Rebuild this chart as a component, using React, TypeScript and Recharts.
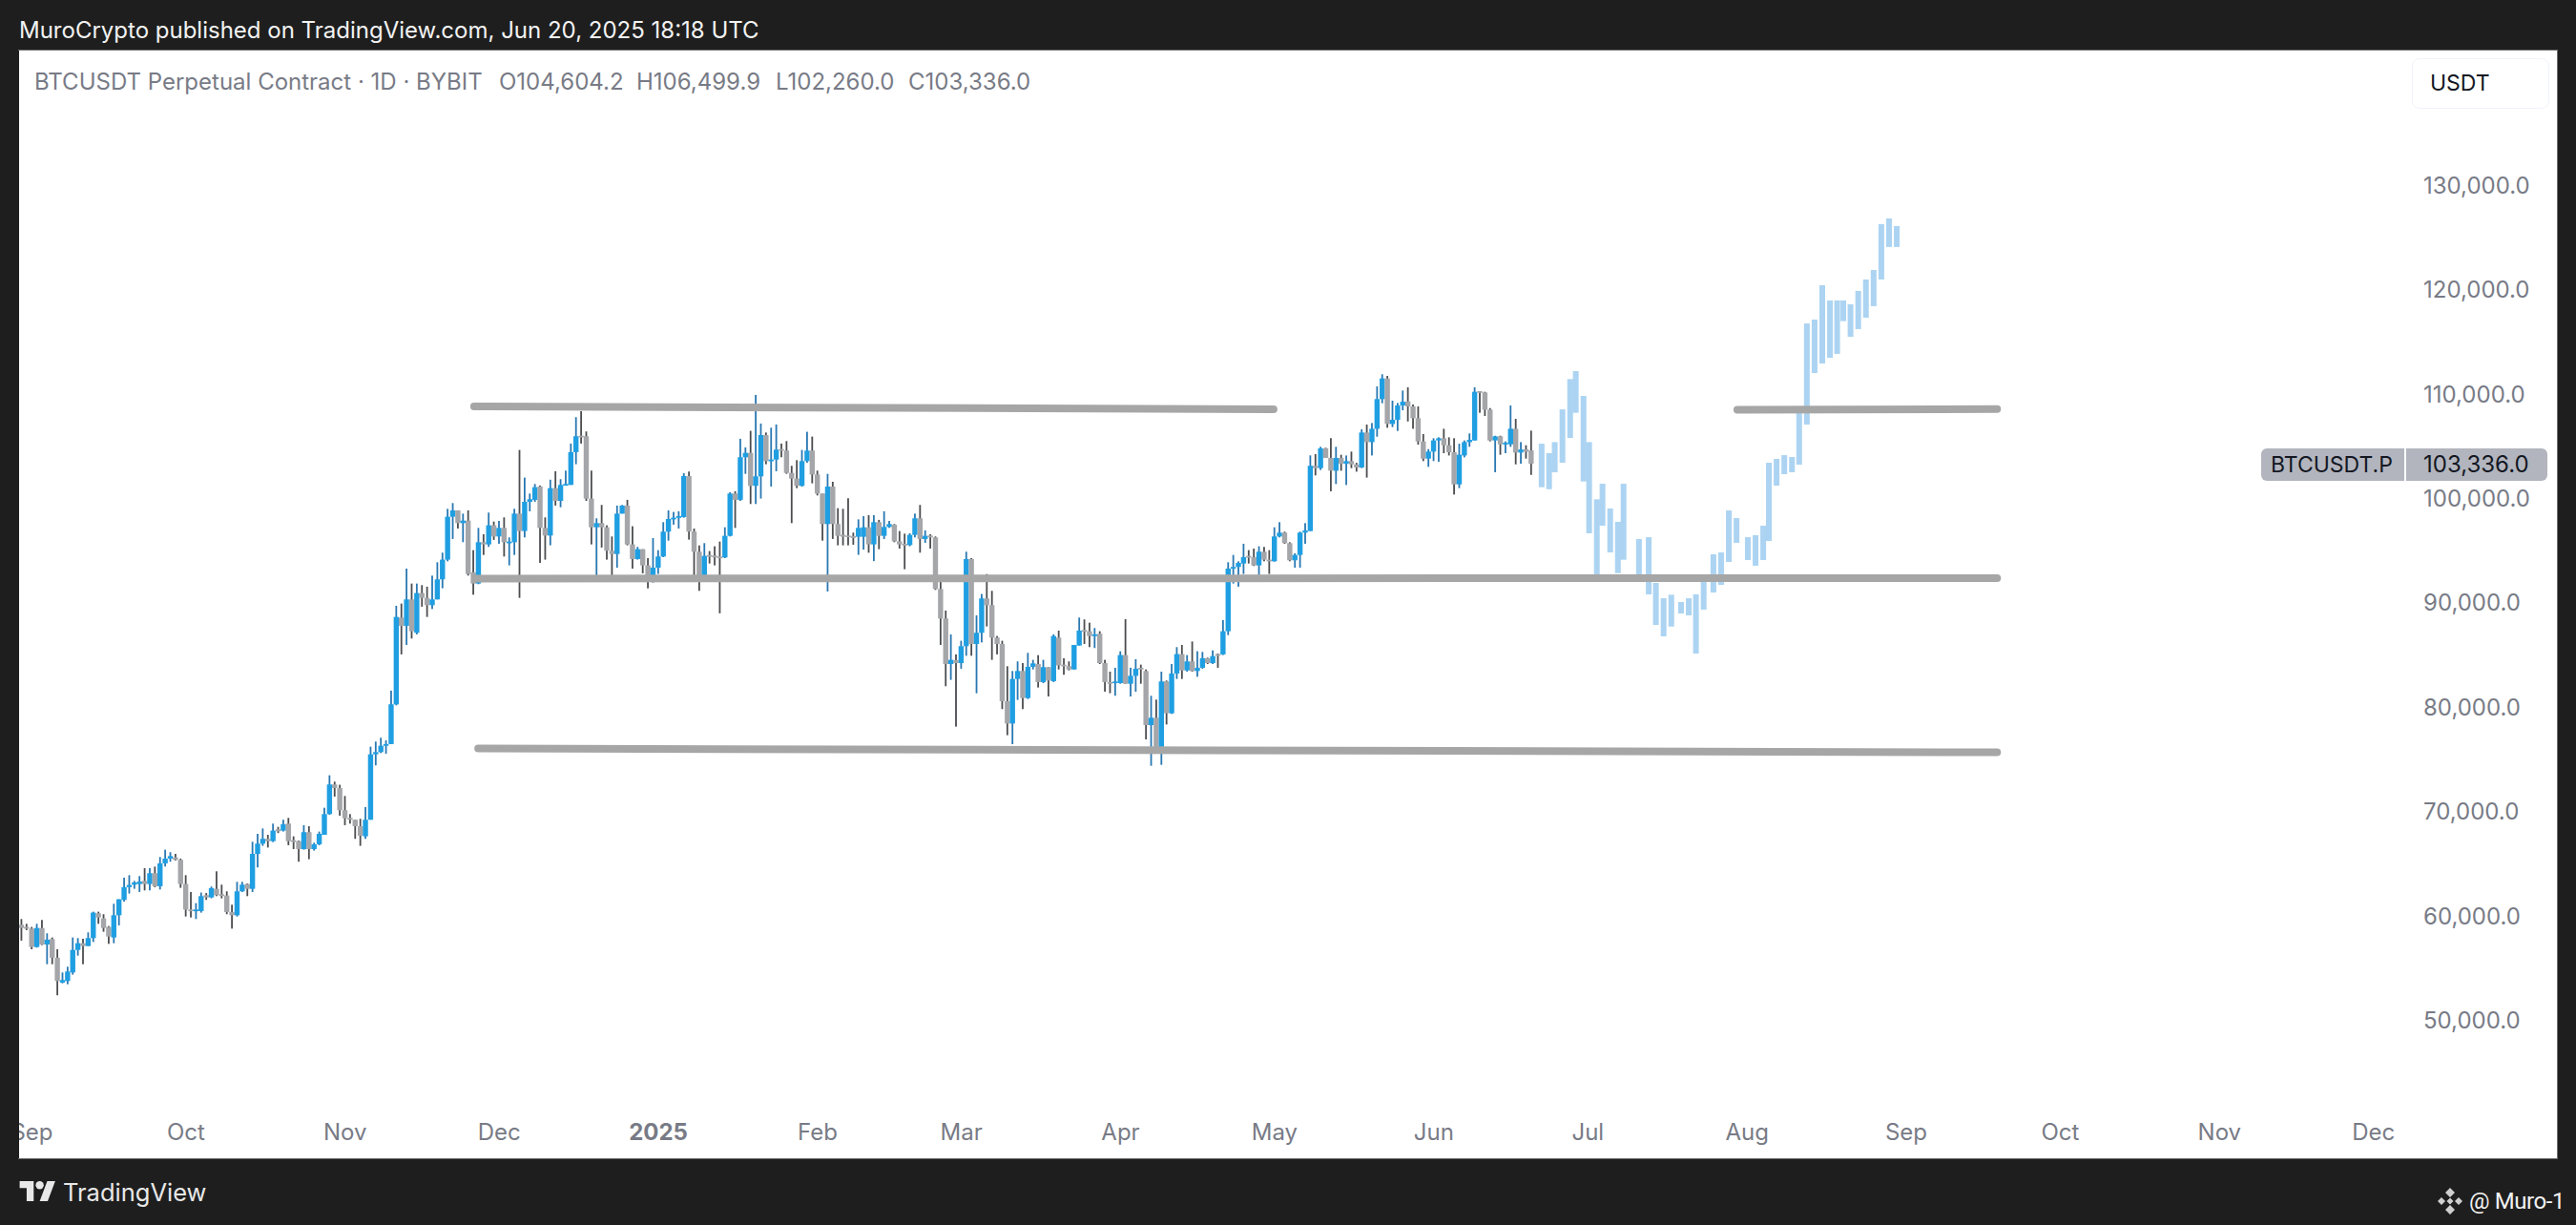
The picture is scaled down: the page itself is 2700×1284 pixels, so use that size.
import React from 'react';
import { Bar, ComposedChart, ReferenceLine, XAxis, YAxis } from 'recharts';

// OHLC, one per daily session (session 0 = 30 Aug 2024)
const opens = [
  59160, 58950, 58790, 57030, 58850, 57270, 57790, 56000, 53620, 53770,
  54590, 56750, 57390, 57120, 57880, 60260, 59770, 58950, 57940, 60070,
  61540, 62760, 63000, 63060, 63360, 63060, 64100, 62850, 65040, 65500,
  65620, 65380, 63060, 60620, 60470, 60470, 62000, 61780, 62600, 62080,
  61960, 60380, 60070, 62360, 63060, 62600, 65950, 66930, 67390, 67170,
  68300, 68180, 68850, 67260, 67170, 66410, 68030, 66410, 66870, 67780,
  69760, 72600, 72260, 70130, 69400, 69220, 68600, 67630, 69220, 75490,
  75700, 76310, 76470, 80270, 88590, 87800, 90330, 87130, 90940, 90480,
  89780, 90330, 92250, 94140, 98250, 98860, 97640, 97880, 92920, 91850,
  95810, 95600, 97430, 96360, 97180, 95800, 95810, 98550, 96880, 99680,
  99870, 101140, 97180, 96450, 100990, 99770, 101300, 101300, 104440, 106020,
  105960, 99990, 97240, 97640, 97240, 94990, 94680, 98550, 99320, 95600,
  94200, 95140, 93590, 92610, 93370, 94440, 96820, 98040, 98160, 98220,
  102150, 96820, 94900, 92370, 94590, 94530, 94440, 94350, 96420, 100470,
  99870, 103950, 104370, 101210, 102120, 106080, 103580, 103730, 104740, 104590,
  102450, 101910, 101210, 103580, 104590, 102300, 100470, 97550, 101140, 97550,
  96510, 96450, 96390, 96330, 96330, 97240, 95600, 97730, 96420, 97270,
  97490, 95900, 95660, 95540, 96510, 98100, 96120, 96450, 96270, 91330,
  88500, 84140, 84510, 84230, 85850, 94200, 86060, 87130, 90420, 89780,
  86670, 86060, 80580, 78440, 82710, 83470, 80880, 83870, 84140, 82410,
  83840, 82500, 86670, 84080, 83930, 83620, 85910, 87400, 87280, 86820,
  87040, 84230, 82410, 82340, 82310, 85000, 82250, 83010, 83780, 83470,
  78290, 78990, 76160, 82470, 79420, 83230, 85090, 83530, 84390, 83470,
  83780, 84690, 84230, 85090, 85060, 87280, 93280, 93440, 93770, 94500,
  94380, 93590, 94900, 94140, 93980, 96360, 96730, 95720, 94080, 94590,
  96730, 96880, 103130, 102910, 104800, 103890, 102660, 103880, 103330, 103580,
  103270, 102970, 106320, 105400, 106680, 109520, 111500, 107140, 107540, 108910,
  109300, 108820, 107690, 105470, 103820, 104490, 105560, 105770, 105100, 104430,
  101350, 104120, 105400, 105560, 110280, 110160, 108510, 105560, 105950, 105190,
  105190, 106680, 104400, 104700, 104604,
];

const highs = [
  59710, 59250, 58950, 59250, 59620, 58340, 57940, 56810, 54590, 55140,
  57940, 57880, 57820, 58430, 60410, 60410, 60170, 59040, 61170, 61600,
  63670, 63910, 63360, 63820, 64580, 64580, 64730, 65650, 66350, 66110,
  65950, 65500, 63910, 62300, 61230, 62240, 62200, 62820, 64280, 63000,
  62360, 61080, 63270, 63270, 63120, 67110, 67870, 68390, 67780, 68850,
  68540, 69220, 69400, 67630, 67230, 68700, 68600, 67020, 68090, 70370,
  73480, 72870, 72570, 71500, 69760, 69220, 69310, 70430, 76220, 76710,
  77080, 76830, 81590, 89720, 89930, 93280, 91850, 91850, 91700, 91550,
  92610, 93890, 94810, 99010, 99560, 98860, 98550, 98860, 95050, 97180,
  96570, 98650, 97790, 97850, 98190, 96270, 99010, 104650, 102000, 100470,
  101390, 101240, 98190, 101800, 102610, 101850, 102670, 105260, 107790, 108370,
  106420, 102670, 98100, 99380, 97430, 96360, 99320, 99380, 99870, 97340,
  95360, 95140, 94290, 96210, 95050, 97730, 98860, 98710, 98770, 102420,
  102580, 97120, 95500, 95720, 94960, 95420, 95870, 97240, 100600, 100690,
  105720, 104890, 106480, 109920, 107180, 106320, 106780, 107090, 105260, 105500,
  103130, 103670, 104650, 106390, 105930, 102670, 100470, 102360, 101600, 99070,
  99010, 100020, 96730, 98000, 98310, 98400, 98400, 97950, 98770, 97850,
  97550, 96880, 96630, 96670, 98550, 99380, 96940, 96570, 96360, 92460,
  89260, 86980, 85060, 86370, 94900, 94290, 88800, 90850, 92760, 91150,
  86820, 86370, 83930, 83470, 84390, 84230, 85210, 84540, 84990, 84540,
  83840, 86980, 87340, 84690, 84390, 85970, 88590, 88410, 88100, 87590,
  87280, 84540, 83410, 83780, 85360, 88440, 83780, 84600, 84080, 83620,
  81100, 80730, 83410, 82560, 84140, 85760, 85970, 85000, 86300, 85360,
  85300, 84750, 85450, 85150, 88350, 93890, 94590, 93980, 95660, 95050,
  95200, 95420, 95360, 95050, 97240, 97730, 96820, 95810, 94750, 96820,
  97640, 104130, 104250, 104950, 104860, 105780, 104950, 104190, 104120, 104490,
  103420, 106620, 107080, 107230, 110740, 111900, 111740, 109370, 109150, 110340,
  110650, 109000, 108820, 106170, 104730, 105770, 105860, 106680, 105860, 105770,
  105250, 105560, 106230, 110650, 110280, 110220, 108660, 106010, 106010, 105470,
  108910, 107630, 105400, 105100, 106500,
];

const lows = [
  57640, 58640, 56810, 56970, 57210, 55380, 55380, 52400, 53550, 53460,
  54380, 56200, 55380, 57120, 57510, 59250, 58490, 57330, 57390, 59100,
  61380, 62150, 62600, 62300, 62450, 62450, 62760, 62540, 64740, 65200,
  65310, 62700, 59950, 59860, 59710, 60320, 61540, 61700, 61900, 61690,
  60170, 58790, 59950, 62300, 61900, 62300, 64650, 66720, 66560, 67080,
  67940, 68090, 66780, 66410, 65200, 66350, 65440, 66260, 66780, 67780,
  69700, 71440, 69610, 68700, 68850, 67390, 66720, 67390, 69220, 74430,
  75610, 75550, 76470, 80180, 85060, 85970, 86580, 86980, 89630, 88650,
  89410, 90330, 91400, 93980, 96120, 97120, 95810, 92610, 90780, 91790,
  94590, 95360, 96030, 95660, 94440, 93590, 94590, 90480, 96270, 98770,
  99680, 93830, 94140, 95510, 99320, 99160, 101300, 101300, 103280, 105260,
  99770, 95600, 92160, 95300, 94140, 92460, 93370, 98550, 95510, 93280,
  94140, 92830, 91390, 91940, 92770, 94380, 95960, 97490, 97120, 98160,
  96060, 92310, 91150, 92160, 93770, 93590, 89000, 94290, 96360, 97180,
  99770, 102360, 99470, 99470, 99990, 103280, 101140, 102610, 103950, 102360,
  97640, 100990, 101140, 103430, 101450, 100290, 95960, 91090, 96120, 95510,
  95510, 95510, 95570, 94600, 95100, 94800, 94000, 95140, 96120, 97180,
  95810, 95200, 93220, 95420, 96270, 94810, 95750, 95200, 91240, 85970,
  82010, 82620, 78140, 83690, 84930, 84930, 81340, 86210, 87740, 84540,
  85060, 79820, 77320, 76460, 80700, 79820, 80790, 83620, 81890, 82310,
  81030, 82410, 83620, 83110, 83530, 83620, 85910, 86060, 85760, 85670,
  84140, 81490, 81340, 81100, 82250, 82250, 81030, 81490, 82250, 76920,
  74390, 76160, 74480, 78350, 79360, 82710, 82710, 83410, 83410, 82920,
  83690, 84140, 84140, 83780, 85000, 86910, 91850, 91550, 92770, 93770,
  93530, 92670, 93980, 92770, 93950, 96270, 95660, 93980, 93370, 93370,
  95660, 96880, 102210, 102730, 103890, 100690, 101380, 102660, 101290, 102910,
  102570, 102910, 102000, 104120, 105920, 109120, 106780, 106840, 106470, 108450,
  107380, 106680, 105160, 103580, 103030, 103580, 103520, 104340, 104120, 100380,
  100990, 103940, 104950, 105560, 108210, 107900, 105470, 102510, 104190, 104340,
  104950, 103270, 103330, 103820, 102260,
];

const closes = [
  58850, 58790, 57030, 58850, 57270, 57730, 56000, 53770, 53860, 54680,
  56750, 57390, 57120, 57880, 60320, 59860, 58850, 58030, 60070, 61600,
  62760, 62970, 63210, 63300, 63060, 64100, 62850, 65040, 65500, 65740,
  65380, 63060, 60620, 60470, 60620, 61900, 61780, 62660, 62000, 61960,
  60380, 60070, 62360, 63000, 62600, 65950, 66930, 67390, 67170, 68180,
  68120, 68790, 67170, 67140, 66410, 68030, 66410, 66870, 67870, 69760,
  72600, 72260, 70130, 69370, 69220, 68600, 67690, 69220, 75490, 75700,
  76310, 76470, 80280, 88650, 87800, 90330, 87280, 90940, 90480, 89780,
  90330, 92250, 94140, 98250, 98860, 97640, 97880, 92770, 91850, 95810,
  95600, 97430, 96360, 97180, 95810, 95870, 98550, 96880, 99680, 99930,
  101080, 97180, 96450, 100990, 99770, 101300, 101390, 104440, 105960, 105960,
  99990, 97240, 97640, 97240, 94990, 94680, 98550, 99320, 95600, 94200,
  95140, 93590, 92610, 93370, 94440, 96820, 98040, 98160, 98310, 102150,
  96820, 94900, 92370, 94500, 94440, 94350, 94350, 96420, 100470, 99870,
  103950, 104370, 101210, 102120, 106080, 103580, 103730, 104680, 104590, 102450,
  101910, 101210, 103580, 104590, 102300, 100470, 97550, 101140, 97550, 96420,
  96390, 96330, 96330, 97180, 97240, 95600, 97730, 96420, 97270, 97550,
  95900, 95600, 95540, 96510, 98100, 96120, 96420, 96270, 91330, 88500,
  84140, 84540, 84230, 85850, 94200, 86060, 87130, 90420, 89780, 86670,
  86060, 80580, 78440, 82710, 83470, 80880, 83870, 84200, 82410, 83840,
  82560, 86820, 84010, 83930, 83620, 85970, 87340, 87280, 86820, 86980,
  84230, 82410, 82250, 82470, 85000, 82250, 83010, 83690, 83620, 78290,
  78990, 76160, 82470, 79420, 83230, 85090, 83530, 84390, 83470, 83780,
  84690, 84230, 84900, 84930, 87280, 93280, 93440, 93830, 94380, 94380,
  93590, 94900, 94140, 93980, 96360, 96730, 95720, 94080, 94590, 96730,
  96940, 103130, 102910, 104800, 103890, 102670, 103880, 103330, 103580, 103270,
  102970, 106320, 105400, 106680, 109520, 111500, 107140, 107540, 108910, 109270,
  108820, 107690, 105470, 103820, 104490, 105560, 105770, 105100, 104430, 101350,
  104190, 105400, 105620, 110220, 110160, 108510, 105560, 105950, 105190, 105340,
  106680, 104400, 104700, 104490, 103336,
];

// hand-drawn projection bars pasted after the last session
const ghostDays = [
  296.05, 297.5, 298.6, 300.1, 301.6, 302.7, 304.2, 305.3, 306.8, 307.9, 309.4, 310.9, 312,
  315, 316.9, 318.3, 319.8, 321.3, 323.2, 324.7, 326.1, 327.6, 329.5, 331, 332.5, 334,
  336.2, 337.7, 339.2, 340.3, 341.8, 343.3, 344.8, 346.2, 347.7, 349.2, 350.7, 352.2,
  353.6, 354.8, 356.2, 357.7, 359.2, 360.7, 362.2, 363.7, 365.2,
];
const ghostHighs = [
  105250, 104340, 105400, 108540, 111440, 112200, 109820, 105400, 99920, 101410, 99040, 97760, 101410,
  96110, 96290, 91910, 90440, 90780, 90080, 90440, 90810, 92150, 94650, 94830, 98850, 98120,
  96290, 96480, 97390, 103420, 103790, 104150, 103970, 108760, 116770, 117140, 120430, 118970,
  118970, 118970, 118600, 119880, 120980, 121890, 126280, 126830, 126100,
];
const ghostLows = [
  101080, 100890, 102510, 103420, 105800, 108210, 101630, 96660, 92450, 97390, 94830, 92850, 94130,
  92240, 90810, 87880, 86790, 87730, 88980, 88800, 85140, 89350, 90990, 91720, 93920, 95750,
  94100, 93550, 94100, 95930, 101230, 102330, 102510, 103240, 107080, 112020, 112930, 113480,
  113850, 116990, 115490, 116230, 117320, 118420, 120980, 124090, 124090,
];

const priceTicks = [50000, 60000, 70000, 80000, 90000, 100000, 110000, 120000, 130000];
const monthTicks = [2, 32, 63, 93, 124, 155, 183, 214, 244, 275, 305, 336, 367, 397, 428, 458];
const monthLabels = ['Sep', 'Oct', 'Nov', 'Dec', '2025', 'Feb', 'Mar', 'Apr', 'May', 'Jun', 'Jul', 'Aug', 'Sep', 'Oct', 'Nov', 'Dec'];

// support / resistance lines [day, price, day, price]
const levels = [
  [88.1, 108820, 243.8, 108546],
  [88.4, 92330, 384.7, 92370],
  [88.9, 76050, 384.7, 75680],
  [334.1, 108500, 384.7, 108560],
];

const candleRows = opens.map((open, i) => ({
  day: i,
  open,
  close: closes[i],
  range: [lows[i], highs[i]],
  ghost: false,
}));
const ghostRows = ghostDays.map((day, i) => ({
  day,
  open: ghostLows[i],
  close: ghostHighs[i],
  range: [ghostLows[i], ghostHighs[i]],
  ghost: true,
}));
const rows = [...candleRows, ...ghostRows];

const FONT = 'Inter, Roboto, sans-serif';
const AXIS_GREY = '#787b86';
const UP = '#1f9fe2';
const DOWN = '#a5a6aa';
const UP_WICK = '#2a78b2';
const DOWN_WICK = '#4c4d50';

const CandleShape = (props: any) => {
  const { x, y, width, height, payload } = props;
  const cx = x + width / 2;
  const [low, high] = payload.range;
  const top = Math.min(y, y + height);
  const h = Math.abs(height);
  if (payload.ghost) {
    return <rect x={cx - 3} y={top} width={6} height={h} fill="#5aa9e6" fillOpacity={0.5} />;
  }
  const toY = (v: number) => top + ((high - v) / (high - low)) * h;
  const up = payload.close >= payload.open;
  const bodyTop = toY(Math.max(payload.open, payload.close));
  const bodyBottom = toY(Math.min(payload.open, payload.close));
  return (
    <g>
      <rect x={cx - 0.9} y={top} width={1.8} height={h} fill={up ? UP_WICK : DOWN_WICK} />
      <rect
        x={cx - 2.7}
        y={bodyTop}
        width={5.4}
        height={Math.max(bodyBottom - bodyTop, 1.8)}
        fill={up ? UP : DOWN}
      />
    </g>
  );
};

const MonthTick = (props: any) => {
  const { x, y, payload } = props;
  const label = monthLabels[monthTicks.indexOf(payload.value)];
  return (
    <text
      x={x}
      y={y}
      dy={27}
      textAnchor="middle"
      fill={AXIS_GREY}
      fontFamily={FONT}
      fontSize={24}
      fontWeight={label === '2025' ? 700 : 400}
    >
      {label}
    </text>
  );
};

const Txt = ({ x, y, size, color, children, family, spacing }: any) => (
  <div
    style={{
      position: 'absolute',
      left: x,
      top: y,
      transform: 'translateY(-50%)',
      fontFamily: family || FONT,
      fontSize: size,
      letterSpacing: spacing || 0,
      color,
      whiteSpace: 'nowrap',
      lineHeight: 1,
      zIndex: 3,
    }}
  >
    {children}
  </div>
);

export default function App() {
  return (
    <div
      style={{
        position: 'absolute',
        left: 0,
        top: 0,
        width: 2700,
        height: 1284,
        background: '#1e1e1e',
        overflow: 'hidden',
      }}
    >
      <div
        style={{
          position: 'absolute',
          left: 20,
          top: 53,
          width: 2660,
          height: 1161,
          background: '#fff',
          boxShadow: '0 0 0 1px #6e6e6e',
        }}
      />
      <div style={{ position: 'absolute', left: 0, top: 0 }}>
        <ComposedChart
          width={2700}
          height={1284}
          data={rows}
          margin={{ top: 53, right: 20, bottom: 70, left: 20 }}
        >
          <XAxis
            dataKey="day"
            type="number"
            domain={[-0.5, 467.7]}
            ticks={monthTicks}
            interval={0}
            height={54}
            axisLine={false}
            tickLine={false}
            tick={<MonthTick />}
          />
          <YAxis
            orientation="right"
            type="number"
            domain={[41728, 142913]}
            ticks={priceTicks}
            interval={0}
            width={140}
            axisLine={false}
            tickLine={false}
            tickSize={0}
            tickMargin={0}
            tick={{ fontSize: 24, fontFamily: FONT, fill: AXIS_GREY }}
            tickFormatter={(v) => v.toLocaleString('en-US', { minimumFractionDigits: 1 })}
          />
          {levels.map((l, i) => (
            <ReferenceLine
              key={i}
              segment={[
                { x: l[0], y: l[1] },
                { x: l[2], y: l[3] },
              ]}
              stroke="#a6a6a6"
              strokeWidth={8}
              strokeLinecap="round"
            />
          ))}
          <Bar dataKey="range" barSize={6} shape={CandleShape} isAnimationActive={false} />
        </ComposedChart>
      </div>

      {/* dark strip clips the first Sep label, as the original panel does */}
      <div style={{ position: 'absolute', left: 0, top: 53, width: 20, height: 1161, background: '#1e1e1e', zIndex: 2 }} />

      <Txt x={20} y={32} size={24} color="#f2f2f2">
        MuroCrypto published on TradingView.com, Jun 20, 2025 18:18 UTC
      </Txt>
      <Txt x={36} y={86} size={24} color={AXIS_GREY}>
        BTCUSDT Perpetual Contract · 1D · BYBIT
      </Txt>
      <Txt x={523} y={86} size={24} color={AXIS_GREY}>O104,604.2</Txt>
      <Txt x={667} y={86} size={24} color={AXIS_GREY}>H106,499.9</Txt>
      <Txt x={813} y={86} size={24} color={AXIS_GREY}>L102,260.0</Txt>
      <Txt x={952} y={86} size={24} color={AXIS_GREY}>C103,336.0</Txt>

      <div
        style={{
          position: 'absolute',
          left: 2528,
          top: 61,
          width: 144,
          height: 53,
          border: '1px solid #f0f3fa',
          borderRadius: 8,
          boxSizing: 'border-box',
          zIndex: 3,
        }}
      />
      <Txt x={2547} y={87} size={23} color="#131722">USDT</Txt>

      <div
        style={{
          position: 'absolute',
          left: 2370,
          top: 470,
          width: 150,
          height: 34,
          background: '#b2b5be',
          borderRadius: '6px 0 0 6px',
          zIndex: 2,
        }}
      />
      <div
        style={{
          position: 'absolute',
          left: 2522,
          top: 470,
          width: 148,
          height: 34,
          background: '#b2b5be',
          borderRadius: '0 6px 6px 0',
          zIndex: 2,
        }}
      />
      <Txt x={2380} y={487} size={23} color="#131722">BTCUSDT.P</Txt>
      <Txt x={2540} y={487} size={24} color="#131722">103,336.0</Txt>

      <svg style={{ position: 'absolute', left: 20, top: 1238 }} width={39} height={21} viewBox="0 0 36 20">
        <path d="M14 20H7V7H0V0h14v20z" fill="#e8e8e8" />
        <circle cx={20} cy={4} r={4} fill="#e8e8e8" />
        <path d="M28 20h-8l7.5-20h8l-7.5 20z" fill="#e8e8e8" />
      </svg>
      <Txt x={66} y={1250} size={25.5} color="#e8e8e8">TradingView</Txt>

      <svg style={{ position: 'absolute', left: 2555, top: 1245 }} width={26} height={28} viewBox="0 0 26 28">
        <path d="M13 0l5 5-5 5-5-5zM13 18l5 5-5 5-5-5zM4 10l4 4-4 4-4-4zM22 10l4 4-4 4-4-4zM13 10.500l3.500 3.500-3.500 3.500-3.500-3.500z" fill="#cfcfcf" />
      </svg>
      <Txt x={2588} y={1259} size={24} color="#f2f2f2" family="Roboto, sans-serif" spacing={-0.4}>@ Muro-1</Txt>
    </div>
  );
}
